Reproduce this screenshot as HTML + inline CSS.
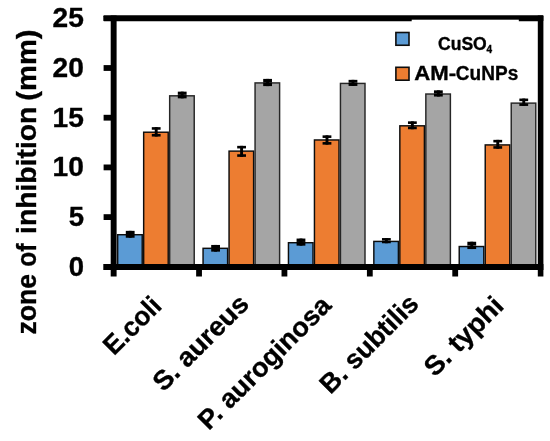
<!DOCTYPE html>
<html><head><meta charset="utf-8"><title>chart</title><style>html,body{margin:0;padding:0;background:#fff;overflow:hidden}</style></head><body>
<svg width="550" height="441" viewBox="0 0 550 441" style="display:block;position:absolute;left:0;top:0">
<rect width="550" height="441" fill="#fff"/>
<rect x="117.67" y="234.72" width="24.55" height="32.80" fill="#5b9bd5" stroke="#0d0d0d" stroke-width="1.45"/>
<rect x="143.67" y="132.22" width="24.55" height="135.30" fill="#ed7d31" stroke="#0d0d0d" stroke-width="1.45"/>
<rect x="169.67" y="95.82" width="24.55" height="171.70" fill="#a5a5a5" stroke="#262626" stroke-width="1.45"/>
<rect x="203.06" y="248.32" width="24.55" height="19.20" fill="#5b9bd5" stroke="#0d0d0d" stroke-width="1.45"/>
<rect x="229.06" y="151.12" width="24.55" height="116.40" fill="#ed7d31" stroke="#0d0d0d" stroke-width="1.45"/>
<rect x="255.06" y="82.92" width="24.55" height="184.60" fill="#a5a5a5" stroke="#262626" stroke-width="1.45"/>
<rect x="288.45" y="242.72" width="24.55" height="24.80" fill="#5b9bd5" stroke="#0d0d0d" stroke-width="1.45"/>
<rect x="314.45" y="139.97" width="24.55" height="127.55" fill="#ed7d31" stroke="#0d0d0d" stroke-width="1.45"/>
<rect x="340.45" y="83.42" width="24.55" height="184.10" fill="#a5a5a5" stroke="#262626" stroke-width="1.45"/>
<rect x="373.84" y="241.42" width="24.55" height="26.10" fill="#5b9bd5" stroke="#0d0d0d" stroke-width="1.45"/>
<rect x="399.84" y="125.82" width="24.55" height="141.70" fill="#ed7d31" stroke="#0d0d0d" stroke-width="1.45"/>
<rect x="425.84" y="94.02" width="24.55" height="173.50" fill="#a5a5a5" stroke="#262626" stroke-width="1.45"/>
<rect x="459.23" y="246.53" width="24.55" height="21.00" fill="#5b9bd5" stroke="#0d0d0d" stroke-width="1.45"/>
<rect x="485.23" y="144.92" width="24.55" height="122.60" fill="#ed7d31" stroke="#0d0d0d" stroke-width="1.45"/>
<rect x="511.23" y="103.12" width="24.55" height="164.40" fill="#a5a5a5" stroke="#262626" stroke-width="1.45"/>
<g fill="#000"><rect x="125.80" y="230.85" width="8.8" height="3.3"/><rect x="125.80" y="234.45" width="8.8" height="3.3"/><rect x="128.75" y="230.85" width="2.9" height="6.90"/></g>
<g fill="#000"><rect x="151.80" y="127.15" width="8.8" height="2.6"/><rect x="151.80" y="133.95" width="8.8" height="2.6"/><rect x="154.75" y="127.15" width="2.9" height="9.40"/></g>
<g fill="#000"><rect x="177.80" y="91.65" width="8.8" height="3.2"/><rect x="177.80" y="95.15" width="8.8" height="3.2"/><rect x="180.75" y="91.65" width="2.9" height="6.70"/></g>
<g fill="#000"><rect x="211.19" y="244.95" width="8.8" height="3.2"/><rect x="211.19" y="248.45" width="8.8" height="3.2"/><rect x="214.14" y="244.95" width="2.9" height="6.70"/></g>
<g fill="#000"><rect x="237.19" y="145.85" width="8.8" height="2.6"/><rect x="237.19" y="154.25" width="8.8" height="2.6"/><rect x="240.14" y="145.85" width="2.9" height="11.00"/></g>
<g fill="#000"><rect x="263.19" y="78.90" width="8.8" height="3.45"/><rect x="263.19" y="82.65" width="8.8" height="3.45"/><rect x="266.14" y="78.90" width="2.9" height="7.20"/></g>
<g fill="#000"><rect x="296.58" y="238.55" width="8.8" height="3.4"/><rect x="296.58" y="242.25" width="8.8" height="3.4"/><rect x="299.53" y="238.55" width="2.9" height="7.10"/></g>
<g fill="#000"><rect x="322.58" y="135.35" width="8.8" height="2.6"/><rect x="322.58" y="142.05" width="8.8" height="2.6"/><rect x="325.53" y="135.35" width="2.9" height="9.30"/></g>
<g fill="#000"><rect x="348.58" y="79.85" width="8.8" height="2.9"/><rect x="348.58" y="83.05" width="8.8" height="2.9"/><rect x="351.53" y="79.85" width="2.9" height="6.10"/></g>
<g fill="#000"><rect x="381.97" y="238.05" width="8.8" height="2.45"/><rect x="381.97" y="240.80" width="8.8" height="2.45"/><rect x="384.92" y="238.05" width="2.9" height="5.20"/></g>
<g fill="#000"><rect x="407.97" y="121.35" width="8.8" height="2.6"/><rect x="407.97" y="126.65" width="8.8" height="2.6"/><rect x="410.92" y="121.35" width="2.9" height="7.90"/></g>
<g fill="#000"><rect x="433.97" y="90.35" width="8.8" height="2.95"/><rect x="433.97" y="93.60" width="8.8" height="2.95"/><rect x="436.92" y="90.35" width="2.9" height="6.20"/></g>
<g fill="#000"><rect x="467.36" y="241.75" width="8.8" height="3.5"/><rect x="467.36" y="245.55" width="8.8" height="3.5"/><rect x="470.31" y="241.75" width="2.9" height="7.30"/></g>
<g fill="#000"><rect x="493.36" y="139.85" width="8.8" height="2.6"/><rect x="493.36" y="146.15" width="8.8" height="2.6"/><rect x="496.31" y="139.85" width="2.9" height="8.90"/></g>
<g fill="#000"><rect x="519.36" y="98.55" width="8.8" height="2.6"/><rect x="519.36" y="103.35" width="8.8" height="2.6"/><rect x="522.31" y="98.55" width="2.9" height="7.40"/></g>
<g fill="#000">
<rect x="103.3" y="15.35" width="440.1" height="5.9" rx="0.8"/>
<rect x="537.8" y="15.5" width="5.6" height="261"/>
<rect x="110.7" y="15.5" width="5.9" height="261"/>
<rect x="103.3" y="264" width="440.1" height="6"/>
<rect x="103.6" y="65.10" width="8" height="5.8"/>
<rect x="103.6" y="114.80" width="8" height="5.8"/>
<rect x="103.6" y="164.50" width="8" height="5.8"/>
<rect x="103.6" y="214.20" width="8" height="5.8"/>
<rect x="196.14" y="266" width="5.8" height="10.5"/>
<rect x="281.53" y="266" width="5.8" height="10.5"/>
<rect x="366.92" y="266" width="5.8" height="10.5"/>
<rect x="452.31" y="266" width="5.8" height="10.5"/>
</g>
<rect x="411.7" y="19.7" width="107.1" height="2.6" fill="#fff"/>
<rect x="395.9" y="32.5" width="13.1" height="12.75" fill="#5b9bd5" stroke="#0d0d0d" stroke-width="1.6"/>
<rect x="395.9" y="67.3" width="13.1" height="12.9" fill="#ed7d31" stroke="#0d0d0d" stroke-width="1.6"/>
<text x="414.2" y="79.6" font-size="20.3" textLength="41.93" lengthAdjust="spacingAndGlyphs" font-family="Liberation Sans, sans-serif" font-weight="bold" fill="#000" stroke="#000" stroke-width="0.35">AM-</text>
<text x="455.87" y="79.65" font-size="20.3" textLength="62.36" lengthAdjust="spacingAndGlyphs" font-family="Liberation Sans, sans-serif" font-weight="bold" fill="#000" stroke="#000" stroke-width="0.35">CuNPs</text>
<text x="438.0" y="50.25" font-size="18.0" textLength="48.79" lengthAdjust="spacingAndGlyphs" font-family="Liberation Sans, sans-serif" font-weight="bold" fill="#000" stroke="#000" stroke-width="0.35">CuSO</text>
<text x="486.5" y="52.6" font-size="10.5" textLength="5.58" lengthAdjust="spacingAndGlyphs" font-family="Liberation Sans, sans-serif" font-weight="bold" fill="#000" stroke="#000" stroke-width="0.35">4</text>
<text x="52.6" y="27.15" font-size="27.6" textLength="31.3" lengthAdjust="spacingAndGlyphs" font-family="Liberation Sans, sans-serif" font-weight="bold" fill="#000" stroke="#000" stroke-width="0.35">25</text>
<text x="52.6" y="76.85" font-size="27.6" textLength="31.3" lengthAdjust="spacingAndGlyphs" font-family="Liberation Sans, sans-serif" font-weight="bold" fill="#000" stroke="#000" stroke-width="0.35">20</text>
<text x="52.6" y="126.55" font-size="27.6" textLength="31.3" lengthAdjust="spacingAndGlyphs" font-family="Liberation Sans, sans-serif" font-weight="bold" fill="#000" stroke="#000" stroke-width="0.35">15</text>
<text x="52.6" y="176.25" font-size="27.6" textLength="31.3" lengthAdjust="spacingAndGlyphs" font-family="Liberation Sans, sans-serif" font-weight="bold" fill="#000" stroke="#000" stroke-width="0.35">10</text>
<text x="68.8" y="225.95" font-size="27.6" textLength="15.3" lengthAdjust="spacingAndGlyphs" font-family="Liberation Sans, sans-serif" font-weight="bold" fill="#000" stroke="#000" stroke-width="0.35">5</text>
<text x="68.8" y="275.65" font-size="27.6" textLength="15.3" lengthAdjust="spacingAndGlyphs" font-family="Liberation Sans, sans-serif" font-weight="bold" fill="#000" stroke="#000" stroke-width="0.35">0</text>
<text transform="translate(114.08,356.37) rotate(-45)" font-size="26.8" textLength="69.3" lengthAdjust="spacingAndGlyphs" font-family="Liberation Sans, sans-serif" font-weight="bold" fill="#000" stroke="#000" stroke-width="0.35">E.coli</text>
<text transform="translate(163.45,392.42) rotate(-45)" font-size="26.8" textLength="122.96" lengthAdjust="spacingAndGlyphs" font-family="Liberation Sans, sans-serif" font-weight="bold" fill="#000" stroke="#000" stroke-width="0.35">S. aureus</text>
<text transform="translate(208.68,431.0) rotate(-45)" font-size="26.8" textLength="175.46" lengthAdjust="spacingAndGlyphs" font-family="Liberation Sans, sans-serif" font-weight="bold" fill="#000" stroke="#000" stroke-width="0.35">P. auroginosa</text>
<text transform="translate(330.62,394.9) rotate(-45)" font-size="26.8" textLength="126.58" lengthAdjust="spacingAndGlyphs" font-family="Liberation Sans, sans-serif" font-weight="bold" fill="#000" stroke="#000" stroke-width="0.35">B. subtilis</text>
<text transform="translate(434.73,377.67) rotate(-45)" font-size="26.8" textLength="99.52" lengthAdjust="spacingAndGlyphs" font-family="Liberation Sans, sans-serif" font-weight="bold" fill="#000" stroke="#000" stroke-width="0.35">S. typhi</text>
<text transform="translate(36.3,334.6) rotate(-90)" font-size="27.8" textLength="60.67" lengthAdjust="spacingAndGlyphs" font-family="Liberation Sans, sans-serif" font-weight="bold" fill="#000" stroke="#000" stroke-width="0.35">zone</text>
<text transform="translate(36.3,266.87) rotate(-90)" font-size="27.8" textLength="23.25" lengthAdjust="spacingAndGlyphs" font-family="Liberation Sans, sans-serif" font-weight="bold" fill="#000" stroke="#000" stroke-width="0.35">of</text>
<text transform="translate(36.3,233.95) rotate(-90)" font-size="27.8" textLength="127.31" lengthAdjust="spacingAndGlyphs" font-family="Liberation Sans, sans-serif" font-weight="bold" fill="#000" stroke="#000" stroke-width="0.35">inhibition</text>
<text transform="translate(36.3,100.63) rotate(-90)" font-size="27.8" textLength="71.06" lengthAdjust="spacingAndGlyphs" font-family="Liberation Sans, sans-serif" font-weight="bold" fill="#000" stroke="#000" stroke-width="0.35">(mm)</text>
</svg>
</body></html>
